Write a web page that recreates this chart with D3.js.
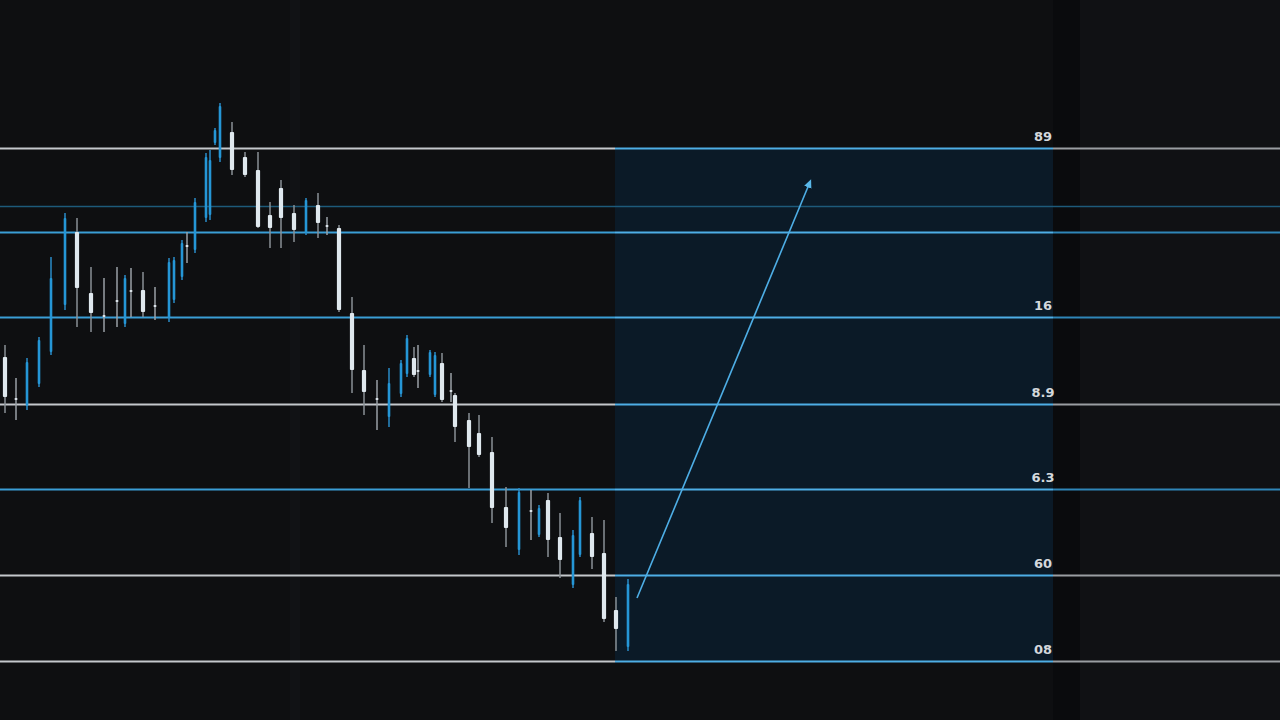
<!DOCTYPE html>
<html><head><meta charset="utf-8">
<script src="https://cdn.jsdelivr.net/npm/d3@7"></script>
<style>html,body{margin:0;padding:0;background:#0e0f11;}svg{display:block;}</style>
</head><body>
<svg id="chart" width="1280" height="720"></svg>
<script>
// time positions of candles
const times = [1,3.2,5.4,7.8,10.2,13,15.4,18.2,20.8,23.4,25,26.2,28.6,31,33.8,34.8,36.4,37.4,39,41.2,42,43,44,46.4,49,51.6,54,56.2,58.8,61.2,63.6,65.4,67.8,70.4,72.8,75.4,77.8,80.2,81.4,82.8,83.6,86,87,88.4,90.2,91,93.8,95.8,98.4,101.2,103.8,106.2,107.8,109.6,112,114.6,116,118.4,120.8,123.2,125.6];
const opens  = [130.4,126.3,125.5,127.7,130.9,135.6,142.9,136.8,134.6,136.1,133.7,137.1,137.1,135.6,134.3,136.1,138.4,141.6,141.1,144.3,144.6,151.8,150.3,152.9,150.4,149.1,144.6,147.3,144.8,142.8,145.6,143.6,143.3,134.8,129.1,126.3,124.4,126.7,128.7,130.3,129.1,128.6,126.6,129.8,127.1,126.6,124.1,122.8,120.9,115.4,111.1,115.1,112.6,116.1,112.4,107.6,110.6,112.8,110.8,105.1,101.4];
const highs  = [131.6,128.3,130.3,132.4,140.4,144.8,144.3,139.4,138.3,139.4,138.6,139.3,138.9,137.4,140.3,140.4,142.1,142.9,146.3,150.8,151.1,153.3,155.8,153.9,150.9,150.9,145.9,148.1,145.6,146.3,146.8,144.4,143.6,136.4,131.6,128.1,129.3,130.1,132.6,131.4,131.6,131.1,130.9,130.8,128.8,126.8,124.8,124.6,122.4,117.4,117.3,117.1,115.6,116.8,114.8,113.1,116.4,114.4,114.1,106.4,108.2];
const lows   = [124.8,124.1,125.1,127.4,130.6,135.1,133.4,132.9,132.9,133.4,133.4,134.4,134.4,134.1,133.9,135.8,138.1,139.8,140.8,143.9,144.1,151.6,149.9,148.6,148.4,143.3,141.3,141.3,141.9,142.6,142.3,142.6,134.9,126.8,124.6,123.1,123.4,126.4,128.4,128.4,127.3,128.4,126.4,125.9,125.9,121.9,117.3,120.4,113.8,111.4,110.6,112.1,112.4,110.4,108.3,107.3,110.4,109.2,103.9,101.0,101.0];
const closes = [126.4,126.1,129.9,132.1,138.3,144.3,137.3,134.8,134.4,135.9,138.3,136.9,134.9,135.4,139.9,140.1,141.8,141.4,145.9,150.4,150.1,153.1,155.5,149.1,148.6,143.4,143.3,144.3,143.1,146.1,143.8,143.4,135.1,129.1,126.9,126.1,127.8,129.8,132.3,128.6,128.9,130.9,130.6,126.1,126.9,123.4,121.4,120.6,115.3,113.3,116.9,114.9,115.3,112.1,110.1,112.6,116.1,110.4,104.2,103.2,107.7];

// horizontal levels
const levelPrices = [151.3,145.5,142.9,134.4,125.7,117.2,108.6,100.0];
const levelKinds  = ["white","faint","blue","blue","white","blue","white","white"];
const levelLabels = ["89","","","16","8.9","6.3","60","08"];

// projection zone and arrow
const zoneTimes = [123, 210.6];
const zonePrices = [151.3, 100.0];
const arrowTimes = [127.4, 162];
const arrowPrices = [106.3, 147.9];

const W = 1280, H = 720;
const x = d3.scaleLinear().domain([0, 256]).range([0, 1280]);
const y = d3.scaleLinear().domain([100, 151.3]).range([661, 148]);

const svg = d3.select("#chart");
const defs = svg.append("defs");
defs.append("marker").attr("id","ah").attr("viewBox","0 0 10 10").attr("refX",6).attr("refY",5)
  .attr("markerWidth",6).attr("markerHeight",6).attr("orient","auto")
  .append("path").attr("d","M0,1 L9,5 L0,9 Z").attr("fill","#5ab8ea");

// background
svg.append("rect").attr("width",W).attr("height",H).attr("fill","#0e0f11");
svg.append("rect").attr("x",x(210.6)).attr("y",0).attr("width",x(216)-x(210.6)).attr("height",H).attr("fill","#0a0b0d");
svg.append("rect").attr("x",x(216)).attr("y",0).attr("width",W-x(216)).attr("height",H).attr("fill","#101114");
svg.append("rect").attr("x",x(58)).attr("y",0).attr("width",x(60)-x(58)).attr("height",H).attr("fill","#111215");

// zone
svg.append("rect").attr("x",x(zoneTimes[0])).attr("y",y(zonePrices[0]))
  .attr("width",x(zoneTimes[1])-x(zoneTimes[0])).attr("height",y(zonePrices[1])-y(zonePrices[0]))
  .attr("fill","#0b1a27");

// levels
const lv = svg.append("g");
levelPrices.forEach((p,i)=>{
  const k = levelKinds[i];
  const yy = Math.round(y(p)) + 0.5;
  if (k === "faint") {
    lv.append("line").attr("x1",0).attr("x2",W).attr("y1",yy).attr("y2",yy).attr("stroke","#1d5a7a").attr("stroke-width",1.5);
  } else if (k === "blue") {
    lv.append("line").attr("x1",0).attr("x2",x(zoneTimes[0])).attr("y1",yy).attr("y2",yy).attr("stroke","#3a9ed6").attr("stroke-width",2);
    lv.append("line").attr("x1",x(zoneTimes[0])).attr("x2",x(zoneTimes[1])).attr("y1",yy).attr("y2",yy).attr("stroke","#4eaee6").attr("stroke-width",2);
    lv.append("line").attr("x1",x(zoneTimes[1])).attr("x2",W).attr("y1",yy).attr("y2",yy).attr("stroke","#2f86b8").attr("stroke-width",2);
  } else {
    lv.append("line").attr("x1",0).attr("x2",x(zoneTimes[0])).attr("y1",yy).attr("y2",yy).attr("stroke","#c4c8cc").attr("stroke-width",2);
    lv.append("line").attr("x1",x(zoneTimes[0])).attr("x2",x(zoneTimes[1])).attr("y1",yy).attr("y2",yy).attr("stroke","#4eaee6").attr("stroke-width",2);
    lv.append("line").attr("x1",x(zoneTimes[1])).attr("x2",W).attr("y1",yy).attr("y2",yy).attr("stroke","#9a9ea2").attr("stroke-width",2);
  }
  if (levelLabels[i]) {
    lv.append("text").attr("x",x(208.6)).attr("y",y(p)-7).attr("text-anchor","middle")
      .attr("fill","#d4d8dc").attr("font-family","DejaVu Sans, sans-serif").attr("font-size",13)
      .attr("font-weight","bold")
      .text(levelLabels[i]);
  }
});

// candles
const candles = times.map((t,i)=>({t, o:opens[i], h:highs[i], l:lows[i], c:closes[i]}));
const cg = svg.append("g");
candles.forEach(d=>{
  const bull = d.c > d.o;
  const doji = Math.abs(d.c - d.o) < 0.35;
  const cx = x(d.t);
  const wickCol = bull ? "#2a8cc8" : "#8a9096";
  cg.append("line").attr("x1",cx).attr("x2",cx).attr("y1",y(d.h)).attr("y2",y(d.l))
    .attr("stroke", doji ? "#9aa0a6" : wickCol).attr("stroke-width", 1.5);
  const top = y(Math.max(d.o,d.c)), bot = y(Math.min(d.o,d.c));
  const w = bull ? 2.6 : (doji ? 3 : 4.2);
  cg.append("rect").attr("x",cx-w/2).attr("y",top).attr("width",w).attr("height",Math.max(1.5,bot-top))
    .attr("rx",1).attr("fill", bull ? "#2596d6" : "#dfe8ee");
});

// arrow
svg.append("line").attr("x1",x(arrowTimes[0])).attr("y1",y(arrowPrices[0]))
  .attr("x2",x(arrowTimes[1])).attr("y2",y(arrowPrices[1]))
  .attr("stroke","#4eaee6").attr("stroke-width",1.6).attr("marker-end","url(#ah)");
</script>
</body></html>
